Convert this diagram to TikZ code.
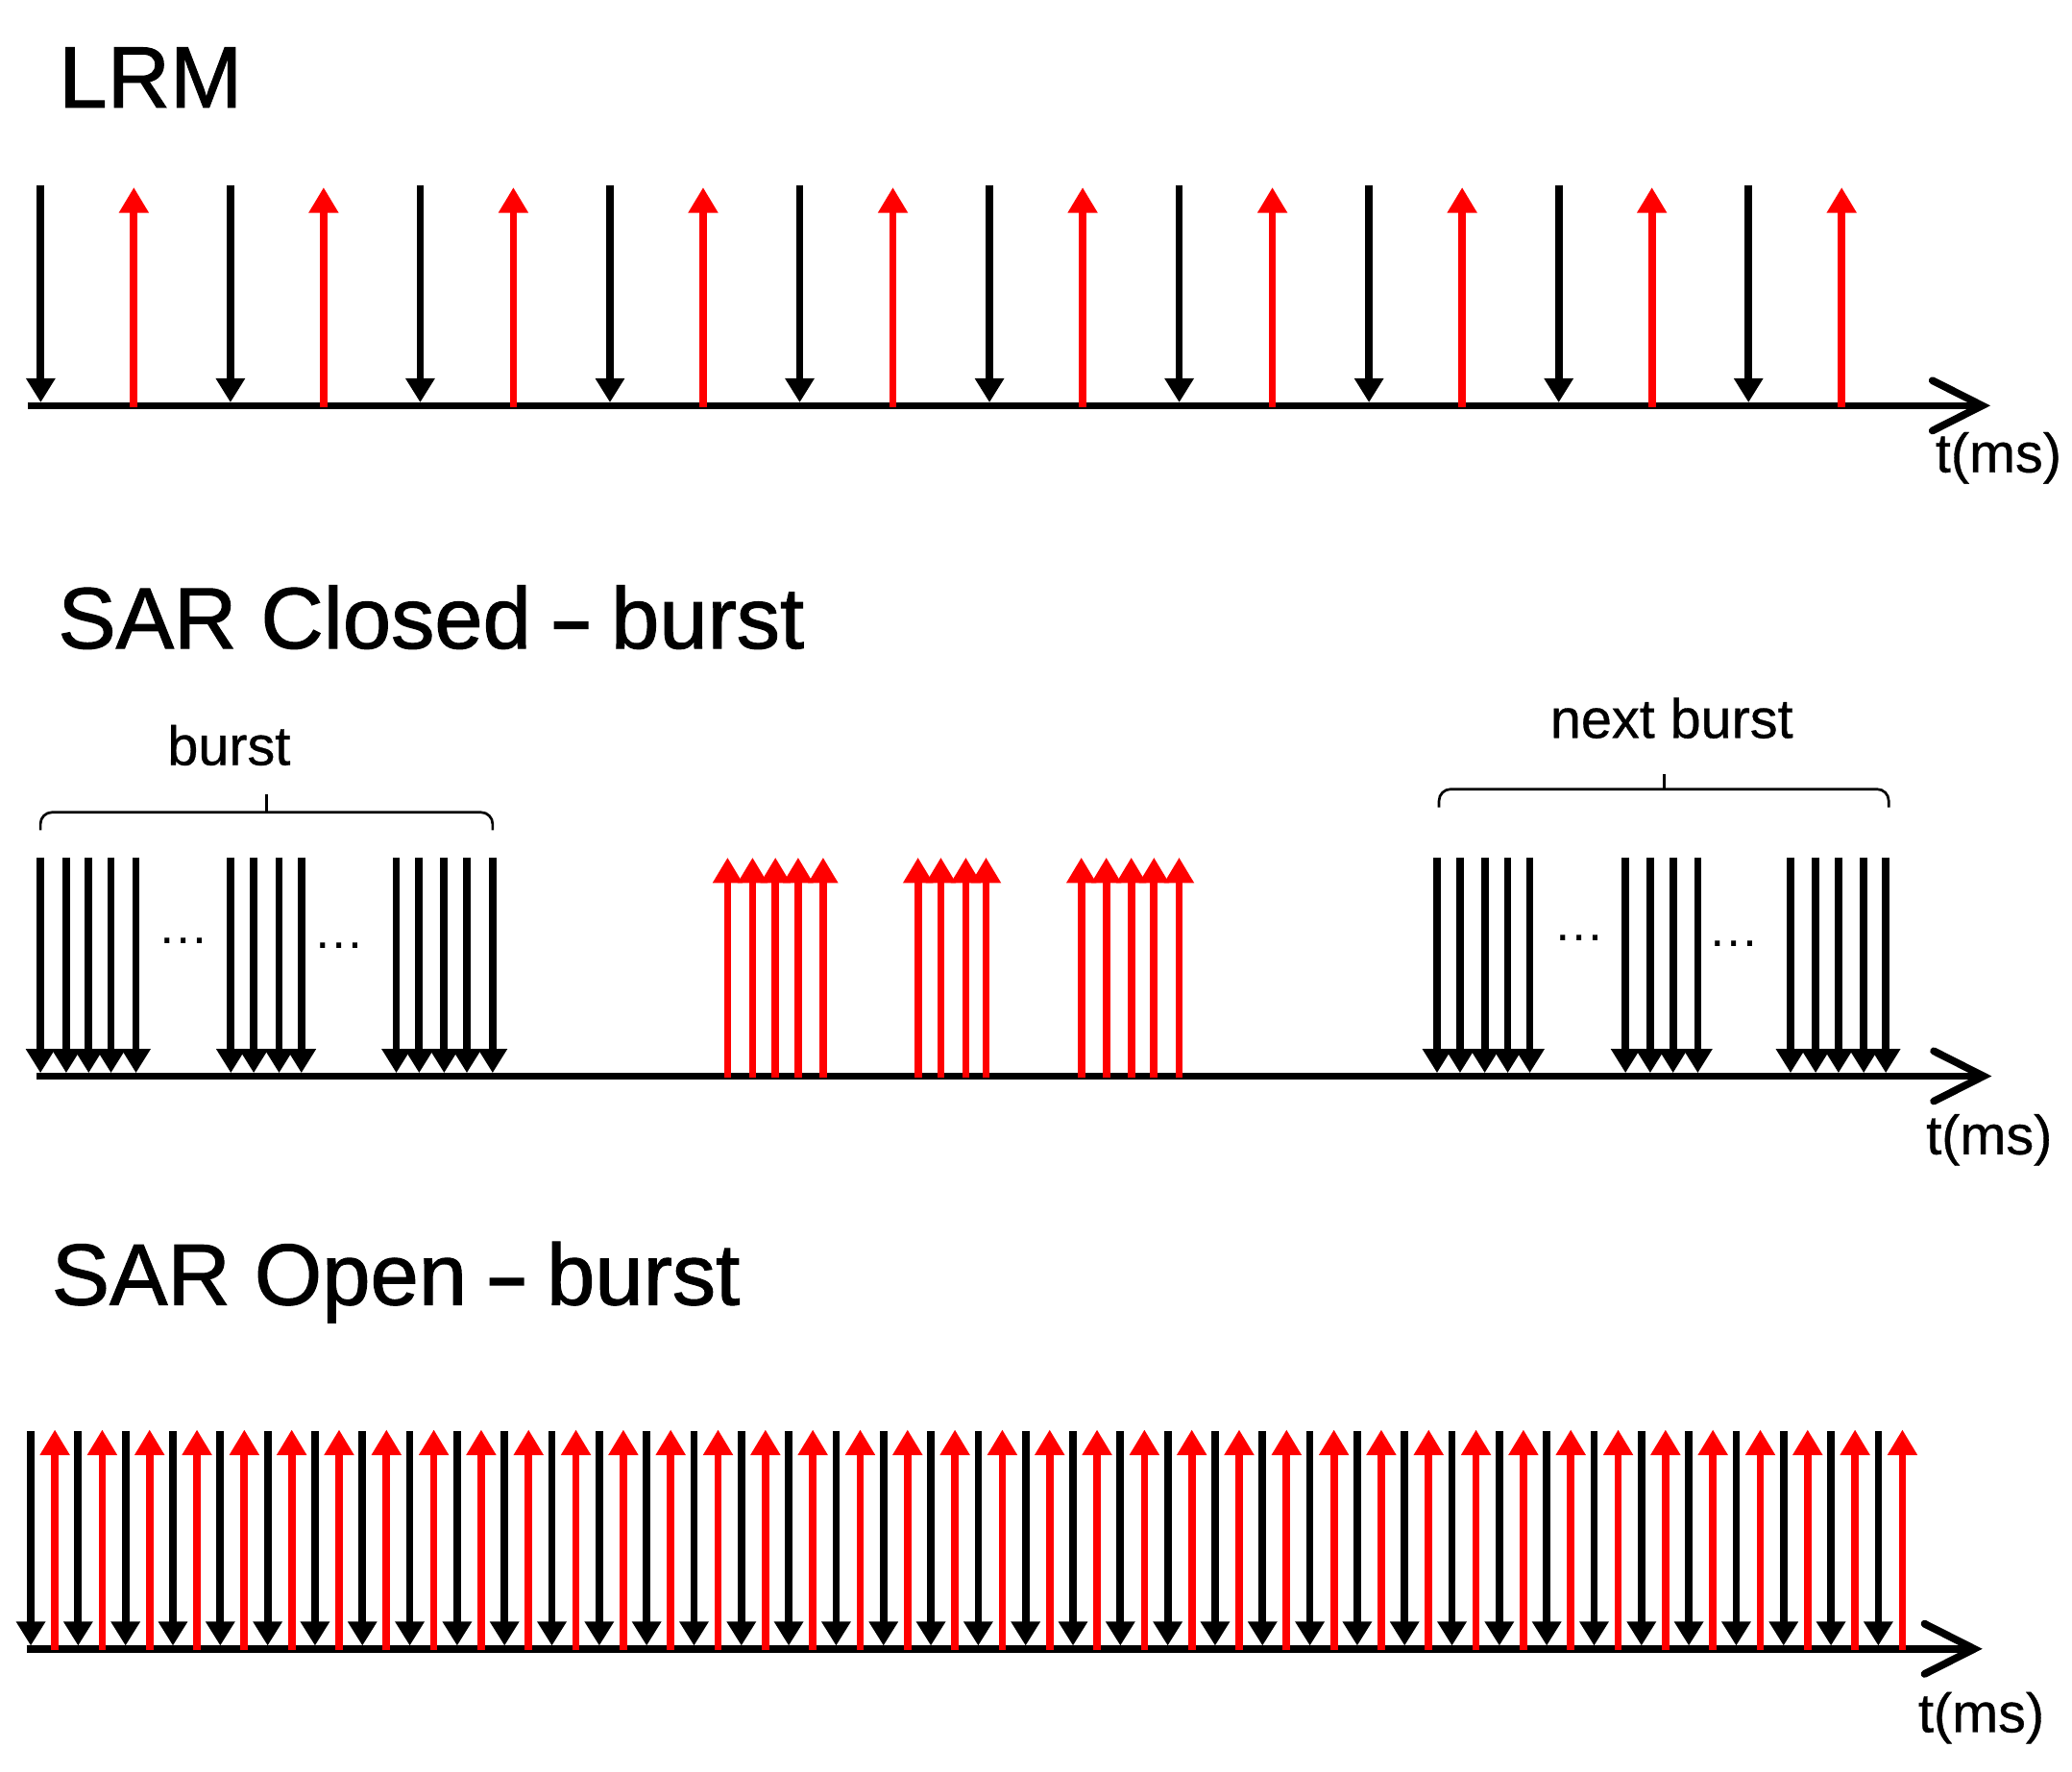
\documentclass[tikz,border=0pt]{standalone}
\usepackage{fontspec}
\setmainfont{Liberation Sans}
\usetikzlibrary{arrows.meta}
\newcommand{\widehyph}{\hspace{0.2em}\scalebox{1.55}[1]{-}\hspace{0.2em}}
\begin{document}
\begin{tikzpicture}[x=0.01cm,y=-0.01cm,
  tx/.style={line width=1.6pt, black, -{Triangle[length=5.2pt,width=6.0pt]}},
  rx/.style={line width=1.6pt, red, -{Triangle[length=5.5pt,width=6.1pt]}},
  axisline/.style={line width=1.55pt},
  chev/.style={line width=1.6pt, line cap=round},
  title/.style={anchor=base west, inner sep=0pt, font=\fontsize{18.7pt}{22pt}\selectfont\addfontfeature{FakeBold=1.2}},
  lbl/.style={anchor=base west, inner sep=0pt, font=\fontsize{11.9pt}{14pt}\selectfont\addfontfeature{FakeBold=0.6}},
  dotsl/.style={anchor=base, inner sep=0pt, font=\fontsize{11pt}{13pt}\selectfont},
  bracel/.style={line width=0.55pt, rounded corners=2.5pt}
]
\useasboundingbox (0,0) rectangle (1568,1341);

% ---------------- LRM ----------------
\node[title] (tLRM) at (43.9,81.2) {LRM};
\coordinate (lrmS) at (21,307);
\coordinate (lrmE) at (1500,307);
\draw[axisline] (lrmS) -- (lrmE);
\draw[chev] (1462.4,288) -- (lrmE) -- (1462.4,326);
\foreach \i in {0,...,9} {
  \pgfmathsetmacro\xb{30.8+143.6*\i}
  \pgfmathsetmacro\xr{101.3+143.6*\i}
  \draw[tx] (\xb,140) -- (\xb,304.6);
  \draw[rx] (\xr,308) -- (\xr,141.8);
}
\node[lbl] (tms1) at (1464,357.4) {t(ms)};

% ---------------- SAR Closed-burst ----------------
\node[title] (tClosed) at (43.2,490.7) {SAR Closed\widehyph burst};
\coordinate (cbS) at (27.9,814.5);
\coordinate (cbE) at (1501,814.5);
\draw[axisline] (cbS) -- (cbE);
\draw[chev] (1463.4,795.5) -- (cbE) -- (1463.4,833.5);
\foreach \x in {30.6,50.1,67.1,84.0,102.9,
                174.7,192,211.2,228.1,
                299.9,317.2,336.1,353.3,372.8,
                1087.5,1104.9,1123.6,1141,1157.7,
                1230.1,1248.8,1266.1,1284.8,
                1355,1374,1391.3,1410.4,1427.1} {
  \draw[tx] (\x,649) -- (\x,812.1);
}
\foreach \x in {550.6,569.5,586.8,604.0,622.9,
                694.7,712.0,730.9,746.2,
                818.3,837.2,856.1,873.3,892.3} {
  \draw[rx] (\x,815.5) -- (\x,649);
}
\node[dotsl] (d1) at (139,714.5) {…};
\node[dotsl] (d2) at (256.7,718) {…};
\node[dotsl] (d3) at (1195.5,712) {…};
\node[dotsl] (d4) at (1312.2,716.4) {…};
% brackets
\draw[bracel] (30.6,628.3) -- (30.6,614.8) -- (372.8,614.8) -- (372.8,628.3);
\draw[line width=0.55pt] (201.7,614.8) -- (201.7,601);
\node[lbl] (tburst) at (126,579) {burst};
\draw[bracel] (1089,611) -- (1089,597.3) -- (1429.3,597.3) -- (1429.3,611);
\draw[line width=0.55pt] (1259.6,597.3) -- (1259.6,586);
\node[lbl] (tnext) at (1172.5,558.5) {next burst};
\node[lbl] (tms2) at (1457,873.6) {t(ms)};

% ---------------- SAR Open-burst ----------------
\node[title] (tOpen) at (38.4,987.5) {SAR Open\widehyph burst};
\coordinate (obS) at (20,1248);
\coordinate (obE) at (1494,1248);
\draw[axisline] (obS) -- (obE);
\draw[chev] (1456.4,1229) -- (obE) -- (1456.4,1267);
\foreach \i in {0,...,39} {
  \pgfmathsetmacro\xb{23.3+35.85*\i}
  \pgfmathsetmacro\xr{41.5+35.85*\i}
  \draw[tx] (\xb,1083) -- (\xb,1245.6);
  \draw[rx] (\xr,1249) -- (\xr,1082);
}
\node[lbl] (tms3) at (1451,1311) {t(ms)};
\end{tikzpicture}
\end{document}
